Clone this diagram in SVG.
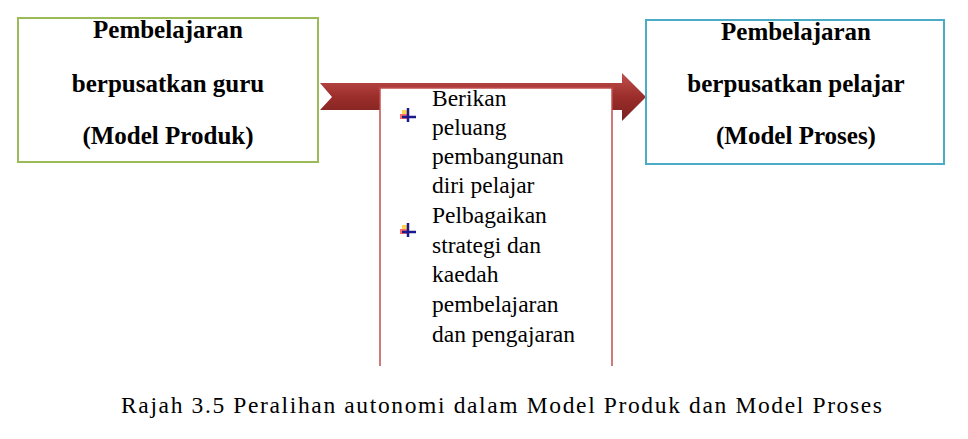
<svg xmlns="http://www.w3.org/2000/svg" width="968" height="439" viewBox="0 0 968 439">
<defs>
<linearGradient id="ag" x1="0" y1="0" x2="0" y2="1">
<stop offset="0" stop-color="#c0504d"/><stop offset="0.5" stop-color="#9b2d2a"/><stop offset="1" stop-color="#7a2220"/>
</linearGradient>
</defs>
<style>
text{font-family:"Liberation Serif","Times New Roman","DejaVu Serif",serif;fill:#000}
.h{font-weight:bold;font-size:25px;text-anchor:middle}
.b{font-size:23.5px}
.c{font-size:23.5px}
</style>
<rect width="968" height="439" fill="#fff"/>
<g id="connectors">
<path d="M320 83 L622 83 L622 73 L646 97 L622 121 L622 110 L320 110 L332 97 Z" fill="url(#ag)"/>
</g>
<g id="left">
<rect x="18" y="18" width="300" height="144" fill="#fff" stroke="#9bbb59" stroke-width="2"/>
<text class="h" x="168" y="38">Pembelajaran</text>
<text class="h" x="168" y="92">berpusatkan guru</text>
<text class="h" x="168" y="144">(Model Produk)</text>
</g>
<g id="right">
<rect x="646" y="20" width="298" height="144" fill="#fff" stroke="#4bacc6" stroke-width="2"/>
<text class="h" x="796" y="40">Pembelajaran</text>
<text class="h" x="796" y="92">berpusatkan pelajar</text>
<text class="h" x="796" y="144">(Model Proses)</text>
</g>
<g id="list">
<path d="M380 366 L380 88 L612 88 L612 366" fill="#fff" stroke="#c0504d" stroke-width="1.5"/>
<g id="bullet1"><rect x="402" y="110" width="7" height="7" fill="#ffd54f"/><rect x="400" y="114" width="8" height="5" fill="#ff6b6b"/><path d="M408 108 V122 M402 117 H416" stroke="#1a1a8c" stroke-width="2.5"/></g>
<g id="bullet2"><rect x="402" y="225" width="7" height="7" fill="#ffd54f"/><rect x="400" y="229" width="8" height="5" fill="#ff6b6b"/><path d="M408 223 V237 M402 232 H416" stroke="#1a1a8c" stroke-width="2.5"/></g>
<text class="b" x="432" y="106">Berikan</text>
<text class="b" x="432" y="135">peluang</text>
<text class="b" x="432" y="164">pembangunan</text>
<text class="b" x="432" y="193">diri pelajar</text>
<text class="b" x="432" y="223">Pelbagaikan</text>
<text class="b" x="432" y="253">strategi dan</text>
<text class="b" x="432" y="282">kaedah</text>
<text class="b" x="432" y="312">pembelajaran</text>
<text class="b" x="432" y="342">dan pengajaran</text>
</g>
<text class="c" x="121" y="413" textLength="761" lengthAdjust="spacing">Rajah 3.5 Peralihan autonomi dalam Model Produk dan Model Proses</text>
</svg>
